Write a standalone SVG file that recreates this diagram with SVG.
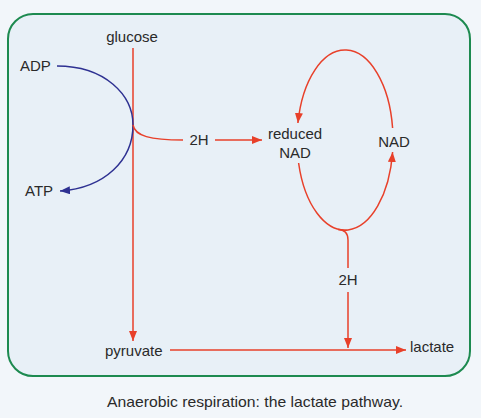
<svg xmlns="http://www.w3.org/2000/svg" width="481" height="418" viewBox="0 0 481 418">
<defs>
<style>
.t{font-family:"Liberation Sans",Arial,sans-serif;font-size:15px;fill:#2a2a2a}
.r{fill:none;stroke:#e8402a;stroke-width:1.5}
.b{fill:none;stroke:#2e3192;stroke-width:1.5}
</style>
<marker id="ar" markerUnits="userSpaceOnUse" markerWidth="11" markerHeight="9" refX="10" refY="4" orient="auto"><path d="M0,0 L10,4 L0,8 z" fill="#e8402a"/></marker>
<marker id="ab" markerUnits="userSpaceOnUse" markerWidth="11" markerHeight="9" refX="10" refY="4" orient="auto"><path d="M0,0 L10,4 L0,8 z" fill="#2e3192"/></marker>
</defs>
<rect x="0" y="0" width="481" height="418" fill="#f2f6fa"/>
<rect id="frame" x="8" y="14" width="462" height="362" rx="25" fill="#e8f0f7" stroke="#1d8a50" stroke-width="2"/>
<g id="connectors">
<path class="r" d="M133,48 L133,341" marker-end="url(#ar)"/>
<path class="b" d="M57,66 C105,66 133,95 133,125 C133,160 105,188 60,191" marker-end="url(#ab)"/>
<path class="r" d="M133,125 C135,136 150,140 183,140"/>
<path class="r" d="M215,140 L262,140" marker-end="url(#ar)"/>
<path class="r" d="M392.6,128 A48 90 0 0 0 297.9,123" marker-end="url(#ar)"/>
<path class="r" d="M298.6,163 A48 90 0 0 0 392.6,152" marker-end="url(#ar)"/>
<path class="r" d="M338,229.6 Q348,230 348,240 L348,268"/>
<path class="r" d="M348,292 L348,348" marker-end="url(#ar)"/>
<path class="r" d="M170,350 L406,350" marker-end="url(#ar)"/>
</g>
<g id="glucose"><text class="t" x="132" y="42" text-anchor="middle">glucose</text></g>
<g id="adp"><text class="t" x="20" y="71">ADP</text></g>
<g id="atp"><text class="t" x="25" y="196">ATP</text></g>
<g id="h2a"><text class="t" x="199" y="145" text-anchor="middle">2H</text></g>
<g id="reducednad"><text class="t" x="295" y="139" text-anchor="middle">reduced</text><text class="t" x="295" y="158" text-anchor="middle">NAD</text></g>
<g id="nad"><text class="t" x="394" y="147" text-anchor="middle">NAD</text></g>
<g id="h2b"><text class="t" x="348" y="285" text-anchor="middle">2H</text></g>
<g id="pyruvate"><text class="t" x="105" y="356">pyruvate</text></g>
<g id="lactate"><text class="t" x="410" y="352">lactate</text></g>
<text class="t" x="107" y="407" textLength="296" lengthAdjust="spacingAndGlyphs">Anaerobic respiration: the lactate pathway.</text>
</svg>
